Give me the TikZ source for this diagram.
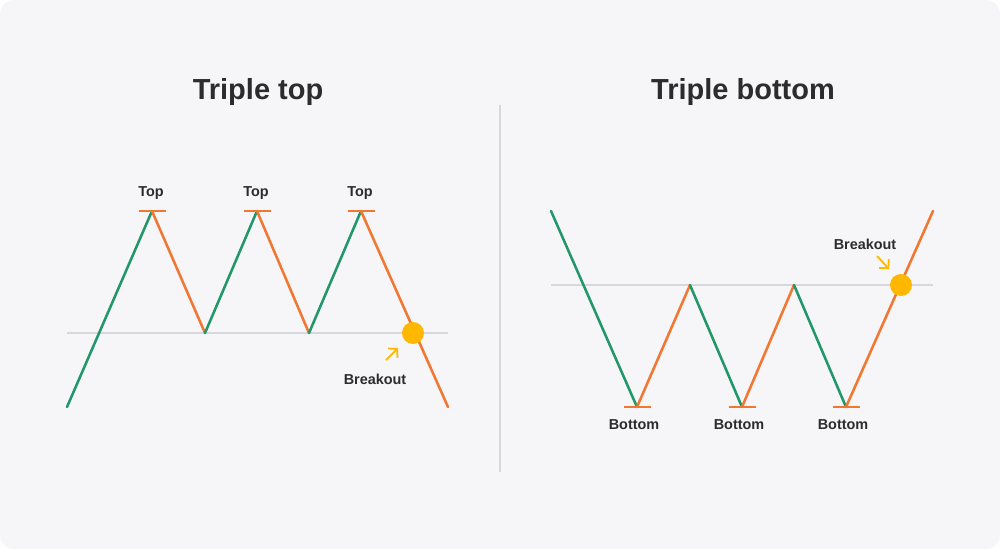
\documentclass[tikz,border=0pt]{standalone}
\usepackage{fontspec}
\setmainfont{Liberation Sans}
\usetikzlibrary{arrows.meta}
\definecolor{bg}{HTML}{F6F6F8}
\definecolor{upg}{HTML}{22986A}
\definecolor{dno}{HTML}{F07833}
\definecolor{yel}{HTML}{FFB700}
\definecolor{txt}{HTML}{2B2B30}
\definecolor{grl}{HTML}{D8D8DC}
\tikzset{
  up/.style={draw=upg, line width=1.45pt, line cap=round},
  down/.style={draw=dno, line width=1.45pt, line cap=round},
  level/.style={draw=grl, line width=0.6pt},
  tick/.style={draw=dno, line width=1.45pt},
  title/.style={font=\bfseries\fontsize{16.5}{20}\selectfont, text=txt},
  lab/.style={font=\bfseries\fontsize{8.2}{9}\selectfont, text=txt},
  dot/.style={circle, fill=yel, inner sep=0pt, minimum size=12.5pt},
  hint/.style={draw=yel, line width=1pt, -{Straight Barb[length=3.5pt,width=7.5pt]}},
}
\begin{document}
\begin{tikzpicture}[x=0.02cm,y=-0.02cm]
\useasboundingbox (0,0) rectangle (1000,549);
\fill[white] (0,0) rectangle (1000,549);
\fill[bg, rounded corners=8pt] (0,0) rectangle (1000,549);
% divider
\draw[grl, line width=0.6pt] (500,105) -- (500,472);
% titles
\node[title] (t1) at (258,92) {Triple top};
\node[title] (t2) at (743,92) {Triple bottom};
% ---- Triple top
\coordinate (a0) at (67,407);
\coordinate (a1) at (152,211);
\coordinate (a2) at (205,333);
\coordinate (a3) at (257,211);
\coordinate (a4) at (309,333);
\coordinate (a5) at (361,211);
\coordinate (a6) at (448,407);
\coordinate (la) at (67,333);
\coordinate (lb) at (448,333);
\draw[level] (la) -- (lb);
\draw[up] (a0) -- (a1);
\draw[down] (a1) -- (a2);
\draw[up] (a2) -- (a3);
\draw[down] (a3) -- (a4);
\draw[up] (a4) -- (a5);
\draw[down] (a5) -- (a6);
\foreach \p in {a1,a3,a5}{
  \draw[tick] ([xshift=-0.27cm]\p) -- ([xshift=0.27cm]\p);
  \node[lab] at ([xshift=-0.02cm,yshift=0.36cm]\p) {Top};
}
\node[dot] (b1) at (413,333) {};
\node[lab] (bl1) at (375,379) {Breakout};
\coordinate (h1s) at (386,360);
\coordinate (h1e) at (398,348);
\draw[hint] (h1s) -- (h1e);
% ---- Triple bottom
\coordinate (c0) at (551,211);
\coordinate (c1) at (637,407);
\coordinate (c2) at (690,285);
\coordinate (c3) at (742,407);
\coordinate (c4) at (794,285);
\coordinate (c5) at (846,407);
\coordinate (c6) at (933,211);
\coordinate (lc) at (551,285);
\coordinate (ld) at (933,285);
\draw[level] (lc) -- (ld);
\draw[up] (c0) -- (c1);
\draw[down] (c1) -- (c2);
\draw[up] (c2) -- (c3);
\draw[down] (c3) -- (c4);
\draw[up] (c4) -- (c5);
\draw[down] (c5) -- (c6);
\foreach \p in {c1,c3,c5}{
  \draw[tick] ([xshift=-0.27cm]\p) -- ([xshift=0.27cm]\p);
  \node[lab] at ([xshift=-0.06cm,yshift=-0.36cm]\p) {Bottom};
}
\node[dot] (b2) at (901,285) {};
\node[lab] (bl2) at (865,244) {Breakout};
\coordinate (h2s) at (877,256);
\coordinate (h2e) at (889,269);
\draw[hint] (h2s) -- (h2e);
\end{tikzpicture}
\end{document}
